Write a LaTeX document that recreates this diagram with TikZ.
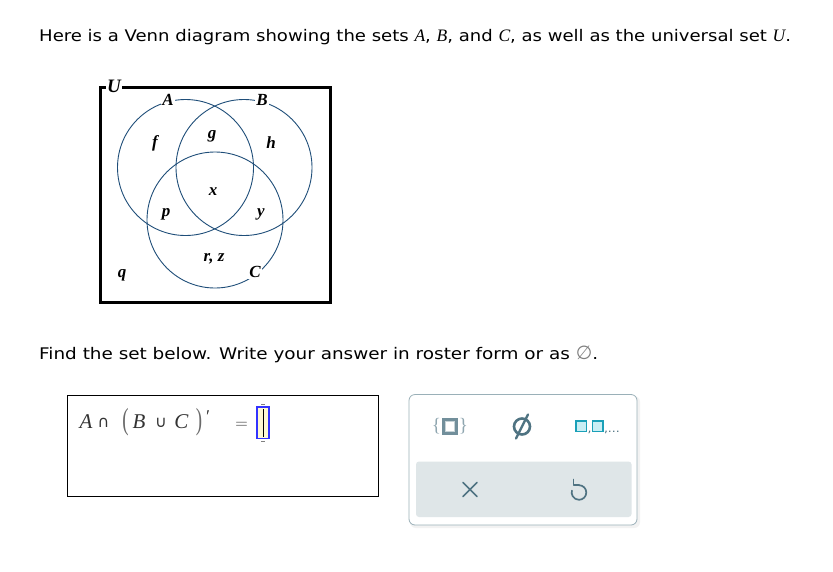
\documentclass[tikz,border=0pt]{standalone}
\usepackage{fontspec}
\setmainfont{DejaVu Sans}[FakeStretch=1.128]
\newfontfamily\findfont{DejaVu Sans}[FakeStretch=1.15]
\newfontfamily\tnr{Liberation Serif}
\newfontfamily\dvs{DejaVu Sans}
\usetikzlibrary{arrows.meta,calc}
\definecolor{venn}{HTML}{1F4E79}
\definecolor{icon}{HTML}{4F7382}
\definecolor{iconlight}{HTML}{8FA6B0}
\definecolor{panelborder}{HTML}{9AB0B8}
\definecolor{btnfill}{HTML}{DFE6E8}
\definecolor{sqfill}{HTML}{C9EEF4}
\definecolor{sqdraw}{HTML}{1AA0B8}
\definecolor{mathgray}{HTML}{333333}
\definecolor{parengray}{HTML}{6A6A6A}
\definecolor{cursorfill}{HTML}{FFFAD2}
\newcommand\mi[1]{{\fontsize{17.5}{19}\tnr\itshape #1}}
\tikzset{
  txt/.style={anchor=base west, inner sep=0pt, font=\fontsize{16}{19}\selectfont},
  setlab/.style={fill=white, inner sep=1.5pt, font=\fontsize{17}{18}\tnr\bfseries\itshape},
  elem/.style={inner sep=0pt, font=\fontsize{17}{18}\tnr\bfseries\itshape},
  vcirc/.style={draw=venn, line width=0.9pt},
  exlet/.style={anchor=base, inner sep=0pt, text=mathgray, font=\fontsize{21}{22}\tnr\itshape},
  exop/.style={anchor=base, inner sep=0pt, text=mathgray, font=\fontsize{16}{18}\dvs},
  expar/.style={inner sep=0pt, text=parengray, font=\fontsize{21}{22}\tnr},
  iconline/.style={icon, line cap=round, line join=round},
}
\begin{document}
\begin{tikzpicture}[x=1pt,y=-1pt]
\useasboundingbox (0,0) rectangle (833,571);
\fill[white] (0,0) rectangle (833,571);

% title
\node[txt] (title) at (39,41.5) {Here is a Venn diagram showing the sets \mi{A}, \mi{B}, and \mi{C}, as well as the universal set \mi{U}.};

% Venn diagram
\draw[line width=3pt] (100,87) rectangle (330,302);
\draw[vcirc] (185.5,167.5) circle[radius=68pt];
\draw[vcirc] (244,167.5) circle[radius=68pt];
\draw[vcirc] (215,220) circle[radius=68pt];
\node[setlab, font=\fontsize{19}{20}\tnr\bfseries\itshape] (U) at (114,86) {U};
\node[setlab] (A) at (168,100) {A};
\node[setlab] (B) at (262,100) {B};
\node[setlab] (C) at (255,272) {C};
\node[elem] (f) at (155,143) {f};
\node[elem] (g) at (212,136) {g};
\node[elem] (h) at (271,143) {h};
\node[elem] (x) at (213,192) {x};
\node[elem] (p) at (166,214) {p};
\node[elem] (y) at (261,214) {y};
\node[elem] (rz) at (214,259) {r, z};
\node[elem] (q) at (122,275) {q};

% instruction
\node[txt, font=\fontsize{16}{19}\findfont] (find) at (39,359) {Find the set below. Write your answer in roster form or as {\color{gray}\fontsize{19}{19}\dvs ∅}.};

% answer box
\draw[line width=0.8pt] (67.5,395) rectangle (378,496);
\node[exlet] (eA) at (86,428) {A};
\node[exop] (ecap) at (103.5,427.5) {∩};
\node[expar] (elp) at (125.5,422.5) {\scalebox{0.9}[1.45]{(}};
\node[exlet] (eB) at (139,428) {B};
\node[exop] (ecup) at (161,427.5) {∪};
\node[exlet] (eC) at (181.5,428) {C};
\node[expar] (erp) at (199,422.5) {\scalebox{0.9}[1.45]{)}};
\node[inner sep=0pt, text=mathgray, font=\fontsize{18}{18}\tnr] (eprime) at (208,416.5) {′};
\node[anchor=base, inner sep=0pt, text=mathgray, font=\fontsize{17}{18}\selectfont] (eeq) at (241.5,428) {$=$};
\draw[blue!80!white, fill=cursorfill, line width=1.1pt] (257,407) rectangle (269,438.5);
\draw[black, line width=0.9pt] (263,409) -- (263,436.5);
\draw[gray, line width=0.6pt] (261,404.5) -- (265,404.5) (261,441) -- (265,441);

% keypad panel
\fill[black!5, rounded corners=6pt] (410,396) rectangle (640,528);
\draw[panelborder, fill=white, line width=0.8pt, rounded corners=6pt] (409,394.5) rectangle (637,525);
\fill[btnfill, rounded corners=3pt] (416,461.5) rectangle (631.5,517);

% {box} icon
\node[text=iconlight, inner sep=0pt, font=\fontsize{19}{20}\tnr] (lbr) at (436.5,426.5) {\{};
\node[text=iconlight, inner sep=0pt, font=\fontsize{19}{20}\tnr] (rbr) at (463.5,426.5) {\}};
\draw[icon!80, line width=2.2pt] (443.5,419.5) rectangle (456.5,433.5);
\draw[iconlight!50, line width=0.8pt] (445.5,421.5) rectangle (454.5,431.5);

% empty set icon
\coordinate (es) at (522,426.5);
\draw[icon, line width=2.6pt] (es) circle[radius=8pt];
\draw[iconline, line width=2.3pt] ($(es)+(6,-12)$) -- ($(es)+(-6,12)$);

% list icon
\draw[sqdraw, fill=sqfill, line width=1.8pt] (576,421) rectangle (586.5,431.5);
\draw[sqdraw, fill=sqfill, line width=1.8pt] (592.5,421) rectangle (603,431.5);
\node[anchor=base west, inner sep=0pt, text=icon, font=\fontsize{11}{11}\selectfont] (comma1) at (587.3,432) {,};
\node[anchor=base west, inner sep=0pt, text=icon, font=\fontsize{11}{11}\selectfont] (dots) at (603.8,432) {,...};

% clear icon
\coordinate (cx) at (470,489.5);
\draw[iconline, line width=1.7pt] ($(cx)+(-7,-7)$) -- ($(cx)+(7,7)$) ($(cx)+(-7,7)$) -- ($(cx)+(7,-7)$);

% undo icon
\coordinate (ux) at (579,492.5);
\draw[iconline, line width=1.7pt] ($(ux)+(0,-7.3)$) arc[start angle=-90, end angle=195, radius=7.3];
\draw[iconline, line width=1.7pt] ($(ux)+(-5.5,-13)$) -- ($(ux)+(-5.5,-7.3)$) -- ($(ux)+(0,-7.3)$);
\end{tikzpicture}
\end{document}
